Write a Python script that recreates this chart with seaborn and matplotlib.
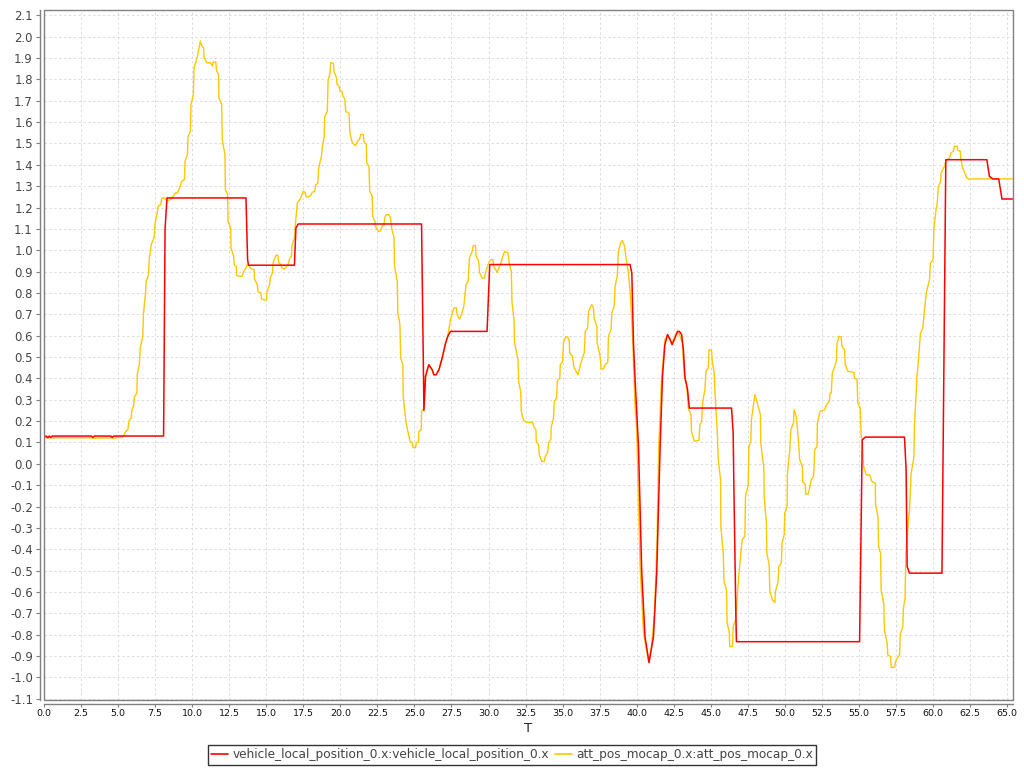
import numpy as np
import pandas as pd
import seaborn as sns
import matplotlib
matplotlib.use("Agg")
import matplotlib.pyplot as plt
from matplotlib.lines import Line2D
from matplotlib.patches import Rectangle

# ---------------- data ----------------
series_names = ["vehicle_local_position_0.x:vehicle_local_position_0.x",
                "att_pos_mocap_0.x:att_pos_mocap_0.x"]

vlp_t = [0.00, 0.15, 0.25, 0.35, 0.45, 0.55, 3.20, 3.30, 3.40, 4.50, 4.60, 4.70,
         8.07, 8.17, 8.30, 13.63, 13.74, 13.80, 16.90, 17.00, 17.15, 25.48, 25.64,
         25.75, 25.97, 26.20, 26.31, 26.46, 26.65, 26.87, 27.10, 27.25, 27.43, 29.90,
         30.08, 39.55, 39.67, 39.78, 39.90, 40.12, 40.34, 40.56, 40.83, 41.13, 41.35,
         41.58, 41.74, 41.90, 42.08, 42.24, 42.39, 42.58, 42.75, 42.88, 43.03, 43.15,
         43.26, 43.43, 43.55, 46.40, 46.51, 46.55, 46.62, 46.69, 46.73, 55.04, 55.22,
         55.42, 58.07, 58.18, 58.25, 58.41, 60.60, 60.86, 63.63, 63.80, 64.03, 64.43,
         64.65, 65.36]
vlp_x = [0.125, 0.130, 0.122, 0.130, 0.123, 0.130, 0.130, 0.124, 0.130, 0.130, 0.124, 0.130,
         0.130, 1.100, 1.245, 1.245, 0.956, 0.930, 0.930, 1.104, 1.123, 1.123, 0.250,
         0.410, 0.464, 0.440, 0.417, 0.417, 0.440, 0.495, 0.565, 0.597, 0.620, 0.620,
         0.933, 0.933, 0.894, 0.566, 0.378, 0.081, -0.512, -0.810, -0.931, -0.810, -0.512,
         0.081, 0.410, 0.558, 0.605, 0.584, 0.558, 0.589, 0.620, 0.620, 0.605, 0.534,
         0.401, 0.347, 0.261, 0.261, 0.144, -0.075, -0.387, -0.700, -0.833, -0.833, 0.112,
         0.125, 0.125, -0.028, -0.481, -0.512, -0.512, 1.424, 1.424, 1.346, 1.334, 1.334,
         1.240, 1.240]

mocap_t = [0.00, 3.20, 3.30, 4.50, 4.60, 5.30, 5.36, 5.50, 5.66, 5.73, 5.88, 5.93,
           6.06, 6.10, 6.27, 6.29, 6.44, 6.49, 6.67, 6.71, 6.85, 6.90, 7.05, 7.10,
           7.25, 7.43, 7.50, 7.64, 7.70, 7.88, 7.93, 8.00, 8.10, 8.35, 8.60, 8.70,
           8.87, 9.00, 9.14, 9.30, 9.47, 9.52, 9.68, 9.72, 9.88, 9.92, 10.08, 10.13,
           10.33, 10.55, 10.62, 10.77, 10.80, 11.00, 11.23, 11.38, 11.40, 11.60, 11.63, 11.79,
           11.80, 11.99, 12.03, 12.21, 12.24, 12.39, 12.42, 12.60, 12.62, 12.80, 12.84, 12.98,
           13.00, 13.17, 13.37, 13.47, 13.63, 13.68, 13.80, 14.00, 14.18, 14.20, 14.40, 14.43,
           14.64, 14.68, 14.90, 15.02, 15.04, 15.22, 15.27, 15.42, 15.47, 15.65, 15.79, 15.83,
           16.00, 16.05, 16.23, 16.46, 16.60, 16.70, 16.73, 16.90, 16.95, 17.10, 17.33, 17.49,
           17.62, 17.67, 17.80, 18.00, 18.10, 18.27, 18.34, 18.48, 18.52, 18.72, 18.79, 18.90,
           18.95, 19.12, 19.17, 19.31, 19.35, 19.53, 19.58, 19.73, 19.78, 19.90, 19.98, 20.10,
           20.18, 20.30, 20.36, 20.60, 20.63, 20.77, 20.92, 21.03, 21.15, 21.30, 21.37, 21.55,
           21.60, 21.75, 21.78, 21.93, 21.98, 22.15, 22.18, 22.34, 22.42, 22.60, 22.70, 22.83,
           22.95, 22.99, 23.10, 23.30, 23.39, 23.46, 23.62, 23.66, 23.84, 23.88, 24.02, 24.07,
           24.22, 24.24, 24.44, 24.63, 24.70, 24.85, 24.90, 25.08, 25.12, 25.27, 25.30, 25.46,
           25.48, 25.64, 25.75, 25.97, 26.20, 26.31, 26.46, 26.65, 26.87, 27.10, 27.25, 27.43,
           27.66, 27.84, 27.88, 28.04, 28.17, 28.33, 28.48, 28.62, 28.71, 28.90, 28.96, 29.12,
           29.16, 29.34, 29.39, 29.56, 29.74, 29.79, 29.97, 30.13, 30.30, 30.35, 30.47, 30.58,
           30.69, 30.84, 30.96, 31.09, 31.31, 31.41, 31.54, 31.58, 31.72, 31.76, 31.99, 32.03,
           32.17, 32.21, 32.37, 32.60, 32.98, 33.06, 33.20, 33.22, 33.38, 33.43, 33.60, 33.77,
           33.83, 33.99, 34.05, 34.21, 34.23, 34.38, 34.44, 34.59, 34.64, 34.81, 34.84, 35.00,
           35.06, 35.22, 35.34, 35.45, 35.47, 35.67, 35.74, 36.03, 36.12, 36.26, 36.46, 36.53,
           36.68, 36.75, 36.97, 37.08, 37.13, 37.31, 37.33, 37.53, 37.60, 37.75, 37.87, 38.05,
           38.09, 38.27, 38.32, 38.48, 38.54, 38.69, 38.76, 38.92, 39.03, 39.17, 39.28, 39.43,
           39.55, 39.71, 39.90, 40.00, 40.23, 40.46, 40.80, 41.00, 41.20, 41.36, 41.49, 41.67,
           41.90, 42.08, 42.35, 42.70, 42.80, 43.08, 43.21, 43.37, 43.48, 43.66, 43.70, 43.89,
           44.10, 44.20, 44.26, 44.38, 44.44, 44.60, 44.67, 44.83, 44.88, 45.05, 45.10, 45.23,
           45.27, 45.45, 45.50, 45.66, 45.68, 45.84, 45.89, 46.06, 46.10, 46.24, 46.28, 46.46,
           46.51, 46.67, 46.85, 46.90, 47.07, 47.12, 47.30, 47.34, 47.52, 47.57, 47.70, 47.74,
           47.97, 48.08, 48.35, 48.37, 48.58, 48.60, 48.75, 48.78, 48.94, 48.98, 49.16, 49.32,
           49.36, 49.54, 49.59, 49.76, 49.81, 49.95, 49.99, 50.15, 50.17, 50.33, 50.40, 50.58,
           50.62, 50.77, 50.89, 51.00, 51.18, 51.20, 51.38, 51.40, 51.57, 51.67, 51.78, 51.94,
           52.01, 52.17, 52.19, 52.37, 52.69, 52.80, 53.00, 53.05, 53.13, 53.20, 53.36, 53.47,
           53.52, 53.65, 53.79, 53.85, 54.03, 54.07, 54.25, 54.65, 54.70, 54.87, 54.92, 55.08,
           55.15, 55.22, 55.31, 55.49, 55.72, 55.87, 56.10, 56.12, 56.28, 56.32, 56.46, 56.49,
           56.67, 56.72, 56.90, 56.94, 57.13, 57.17, 57.40, 57.51, 57.74, 57.78, 57.96, 58.00,
           58.11, 58.16, 58.30, 58.41, 58.52, 58.70, 58.75, 58.80, 58.91, 58.99, 59.15, 59.31,
           59.42, 59.56, 59.76, 59.82, 60.00, 60.05, 60.20, 60.27, 60.36, 60.50, 60.54, 60.72,
           60.87, 61.10, 61.21, 61.37, 61.44, 61.62, 61.66, 61.84, 61.88, 61.99, 62.11, 62.27,
           62.45, 62.57, 65.36]
mocap_x = [0.122, 0.122, 0.120, 0.122, 0.120, 0.125, 0.130, 0.150, 0.160, 0.200, 0.215, 0.250,
           0.276, 0.315, 0.330, 0.417, 0.470, 0.540, 0.600, 0.700, 0.800, 0.855, 0.885, 0.956,
           1.030, 1.058, 1.128, 1.175, 1.206, 1.214, 1.240, 1.245, 1.245, 1.232, 1.240, 1.252,
           1.268, 1.268, 1.289, 1.323, 1.330, 1.417, 1.448, 1.534, 1.557, 1.682, 1.729, 1.854,
           1.900, 1.980, 1.960, 1.948, 1.900, 1.878, 1.878, 1.862, 1.880, 1.882, 1.846, 1.818,
           1.714, 1.682, 1.518, 1.448, 1.284, 1.260, 1.135, 1.104, 1.010, 0.972, 0.930, 0.925,
           0.882, 0.878, 0.878, 0.901, 0.917, 0.930, 0.930, 0.912, 0.910, 0.866, 0.839, 0.807,
           0.800, 0.772, 0.766, 0.769, 0.803, 0.839, 0.870, 0.894, 0.945, 0.976, 0.976, 0.943,
           0.933, 0.917, 0.912, 0.931, 0.964, 0.972, 1.020, 1.058, 1.112, 1.222, 1.245, 1.276,
           1.271, 1.253, 1.248, 1.256, 1.271, 1.276, 1.307, 1.313, 1.378, 1.440, 1.487, 1.526,
           1.628, 1.651, 1.791, 1.834, 1.878, 1.875, 1.834, 1.810, 1.776, 1.770, 1.745, 1.744,
           1.721, 1.710, 1.651, 1.640, 1.557, 1.510, 1.495, 1.490, 1.510, 1.520, 1.542, 1.542,
           1.506, 1.495, 1.410, 1.393, 1.276, 1.253, 1.159, 1.135, 1.100, 1.088, 1.090, 1.115,
           1.117, 1.151, 1.167, 1.165, 1.151, 1.104, 1.058, 0.925, 0.854, 0.706, 0.651, 0.495,
           0.464, 0.315, 0.190, 0.128, 0.105, 0.100, 0.076, 0.075, 0.097, 0.103, 0.151, 0.159,
           0.245, 0.260, 0.410, 0.464, 0.440, 0.417, 0.417, 0.440, 0.495, 0.565, 0.600, 0.675,
           0.730, 0.730, 0.698, 0.678, 0.698, 0.737, 0.839, 0.854, 0.964, 0.995, 1.022, 1.022,
           0.972, 0.948, 0.896, 0.870, 0.870, 0.894, 0.933, 0.956, 0.956, 0.925, 0.910, 0.896,
           0.917, 0.940, 0.972, 0.995, 0.987, 0.933, 0.901, 0.760, 0.675, 0.566, 0.487, 0.386,
           0.339, 0.245, 0.203, 0.194, 0.194, 0.172, 0.159, 0.105, 0.089, 0.042, 0.011, 0.011,
           0.034, 0.053, 0.097, 0.116, 0.175, 0.209, 0.292, 0.308, 0.389, 0.401, 0.464, 0.479,
           0.573, 0.594, 0.594, 0.573, 0.519, 0.503, 0.456, 0.417, 0.440, 0.479, 0.519, 0.620,
           0.636, 0.714, 0.745, 0.730, 0.683, 0.643, 0.566, 0.503, 0.444, 0.444, 0.464, 0.475,
           0.597, 0.628, 0.706, 0.740, 0.831, 0.881, 0.995, 1.034, 1.046, 1.022, 0.964, 0.900,
           0.815, 0.612, 0.253, 0.159, -0.481, -0.793, -0.926, -0.856, -0.700, -0.387, 0.081, 0.394,
           0.580, 0.605, 0.566, 0.610, 0.620, 0.566, 0.410, 0.378, 0.261, 0.230, 0.151, 0.105,
           0.109, 0.110, 0.183, 0.198, 0.284, 0.347, 0.433, 0.448, 0.534, 0.531, 0.479, 0.425,
           0.350, 0.128, 0.019, -0.075, -0.294, -0.418, -0.551, -0.590, -0.746, -0.786, -0.856, -0.856,
           -0.762, -0.731, -0.559, -0.512, -0.387, -0.356, -0.340, -0.153, -0.098, 0.081, 0.105, 0.206,
           0.323, 0.300, 0.230, 0.097, -0.020, -0.153, -0.278, -0.418, -0.473, -0.598, -0.637, -0.650,
           -0.598, -0.551, -0.481, -0.465, -0.371, -0.333, -0.231, -0.200, -0.044, 0.066, 0.159, 0.191,
           0.253, 0.222, 0.128, 0.019, -0.012, -0.083, -0.098, -0.142, -0.142, -0.114, -0.075, -0.059,
           0.066, 0.081, 0.191, 0.245, 0.253, 0.276, 0.292, 0.331, 0.331, 0.425, 0.456, 0.479,
           0.566, 0.597, 0.594, 0.550, 0.534, 0.464, 0.433, 0.428, 0.401, 0.394, 0.284, 0.261,
           0.128, 0.112, -0.012, -0.052, -0.052, -0.083, -0.090, -0.192, -0.247, -0.387, -0.418, -0.590,
           -0.653, -0.778, -0.840, -0.895, -0.903, -0.953, -0.953, -0.918, -0.895, -0.801, -0.762, -0.676,
           -0.629, -0.418, -0.294, -0.216, -0.044, 0.027, 0.191, 0.253, 0.410, 0.464, 0.612, 0.636,
           0.722, 0.807, 0.862, 0.940, 0.956, 1.097, 1.190, 1.214, 1.300, 1.318, 1.362, 1.386,
           1.417, 1.432, 1.456, 1.464, 1.487, 1.487, 1.468, 1.464, 1.425, 1.386, 1.367, 1.339,
           1.331, 1.334, 1.334]

assert len(vlp_t) == len(vlp_x), (len(vlp_t), len(vlp_x))
assert len(mocap_t) == len(mocap_x), (len(mocap_t), len(mocap_x))

x_ticks = np.arange(0, 65.01, 2.5)
y_ticks = np.round(np.arange(-1.1, 2.101, 0.1), 1)

colors = ["#FF0000", "#FFC800"]

df_vlp = pd.DataFrame({"T": vlp_t, "value": vlp_x})
df_mocap = pd.DataFrame({"T": mocap_t, "value": mocap_x})

# ---------------- figure ----------------
sns.set_theme(style="white")
plt.rcParams["font.family"] = ["DejaVu Sans"]

fig = plt.figure(figsize=(10.24, 7.68), dpi=100)
ax = fig.add_axes([44 / 1024, 1 - 700 / 768, (1012.5 - 44) / 1024, (700 - 10) / 768])
ax.set_facecolor("white")

sns.lineplot(data=df_mocap, x="T", y="value", ax=ax, color=colors[1], lw=1.0,
             estimator=None, sort=False, zorder=3)
sns.lineplot(data=df_vlp, x="T", y="value", ax=ax, color=colors[0], lw=1.1,
             estimator=None, sort=False, zorder=4)

ax.set_xlim(0, 65.36)
ax.set_ylim(-1.106, 2.125)
ax.set_xticks(x_ticks)
ax.set_xticklabels([f"{v:.1f}" for v in x_ticks])
ax.set_yticks(y_ticks)
ax.set_yticklabels([f"{v:.1f}" for v in y_ticks])

ax.grid(True, color="#DCDCDC", linestyle=(0, (2.5, 2.5)), linewidth=0.7)
ax.set_axisbelow(True)

for side in ["top", "right"]:
    ax.spines[side].set_visible(False)
for side in ["left", "bottom"]:
    ax.spines[side].set_color("#808080")
    ax.spines[side].set_linewidth(1.0)
    ax.spines[side].set_position(("outward", 3))
ax.add_patch(Rectangle((0, 0), 1, 1, transform=ax.transAxes, fill=False,
                       edgecolor="#808080", linewidth=1.0, zorder=5, clip_on=False))

ax.tick_params(axis="x", which="major", direction="out", length=2, width=0.8,
               color="#808080", pad=1.5, bottom=True, labelsize=6.8, labelcolor="#111111")
ax.tick_params(axis="y", which="major", direction="out", length=3, width=0.8,
               color="#808080", pad=2, left=True, labelsize=8.4, labelcolor="#444444")

ax.set_xlabel("T", fontsize=9.5, color="#222222", labelpad=2.5)
ax.set_ylabel("")

handles = [Line2D([], [], color=colors[0], lw=1.2),
           Line2D([], [], color=colors[1], lw=1.2)]
leg = fig.legend(handles, series_names, loc="lower center", bbox_to_anchor=(0.5, 0.0),
                 ncol=2, frameon=True, fancybox=False, fontsize=8.7,
                 handlelength=1.4, handletextpad=0.35, columnspacing=0.5,
                 borderpad=0.3, borderaxespad=0.25)
leg.get_frame().set_edgecolor("black")
leg.get_frame().set_linewidth(1.0)
for txt in leg.get_texts():
    txt.set_color("#444444")

fig.savefig("out.png", dpi=100)
